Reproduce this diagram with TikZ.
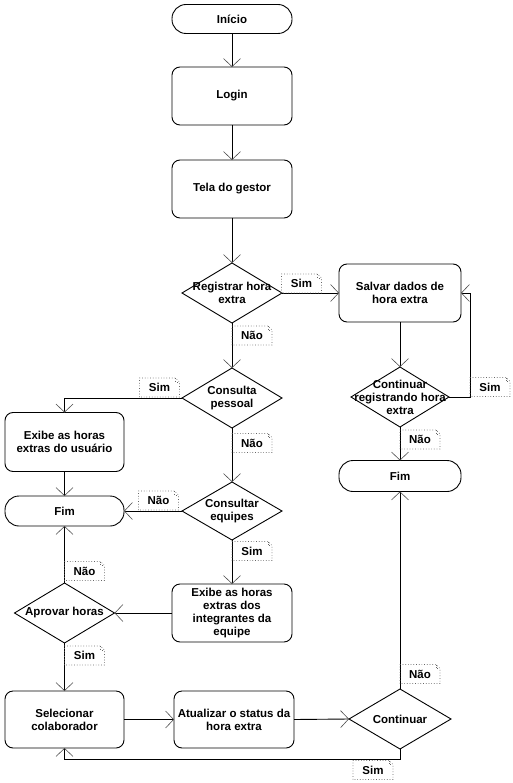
\documentclass[tikz,border=0pt]{standalone}
\usepackage{fontspec}
\setmainfont{Liberation Sans}
\usetikzlibrary{shapes.geometric,arrows.meta}
\tikzset{
  every node/.style={font=\fontsize{11.5}{13}\selectfont\bfseries, inner sep=0pt, outer sep=0pt, align=center},
  box/.style={draw, line width=0.9pt, rectangle, rounded corners=8pt, minimum width=120pt, minimum height=58pt},
  term/.style={draw, line width=0.9pt, rectangle, rounded corners=14pt, minimum width=120pt, minimum height=29pt},
  dec/.style={draw, line width=0.9pt, diamond, minimum width=100pt, minimum height=60pt},
  conn/.style={line width=0.9pt, -{Straight Barb[length=8pt,width=17pt,line width=0.6pt,color=black!70]}},
  lbl/.style={minimum width=40pt, minimum height=19pt},
  notedraw/.style={draw=black!60, dotted, line width=0.7pt}
}
\newcommand\notelabel[3]{%
  \node[lbl] (#1) at #2 {#3};
  \draw[notedraw] (#1.south west) -- (#1.north west) -- ([xshift=-4pt]#1.north east) -- ([yshift=-4pt]#1.north east) -- (#1.south east) -- cycle;
  \draw[notedraw] ([xshift=-4pt]#1.north east) -- ([xshift=-4pt,yshift=-4pt]#1.north east) -- ([yshift=-4pt]#1.north east);
}
\begin{document}
\begin{tikzpicture}[x=1pt,y=-1pt]
\useasboundingbox (0,0) rectangle (513,783);
% nodes
\node[term] (inicio) at (232,19) {Início};
\node[box] (login) at (232,96) {Login};
\node[box] (tela) at (232,189) {Tela do gestor};
\node[dec] (reg) at (232,293) {};
\node at (reg) {Registrar hora\\extra};
\node[box, minimum width=122pt] (salvar) at (400,293) {Salvar dados de\\hora extra};
\node[dec] (cpess) at (232,398) {};
\node at (cpess) {Consulta\\pessoal};
\node[dec, minimum width=98pt] (contreg) at (400,397) {};
\node at (contreg) {Continuar\\registrando hora\\extra};
\node[term, minimum width=122pt, minimum height=31pt] (fimR) at (400,476) {Fim};
\node[box, minimum width=119pt, minimum height=59pt] (exibeU) at (64.5,442) {Exibe as horas\\extras do usuário};
\node[term, minimum width=119pt, minimum height=30pt] (fimL) at (64.5,511) {Fim};
\node[dec, minimum height=58pt] (ceq) at (232,511) {};
\node at (ceq) {Consultar\\equipes};
\node[box] (exibeI) at (232,613) {Exibe as horas\\extras dos\\integrantes da\\equipe};
\node[dec] (aprov) at (64.5,613) {};
\node at (aprov) {Aprovar horas};
\node[box, minimum width=119pt, minimum height=57pt] (selec) at (64.5,719.5) {Selecionar\\colaborador};
\node[box, minimum height=57pt] (atual) at (234,719.5) {Atualizar o status da\\hora extra};
\node[dec, minimum width=102pt] (cont) at (400,719) {};
\node at (cont) {Continuar};
\coordinate (cs) at (400,759);
\coordinate (cr) at (470,397);
% connectors
\draw[conn] (inicio) -- (login);
\draw[conn] (login) -- (tela);
\draw[conn] (tela) -- (reg.north);
\draw[conn] (reg.east) -- (salvar.west);
\draw[conn] (reg.south) -- (cpess.north);
\draw[conn] (cpess.west) -| (exibeU.north);
\draw[conn] (cpess.south) -- (ceq.north);
\draw[conn] (exibeU.south) -- (fimL.north);
\draw[conn] (ceq.west) -- (fimL.east);
\draw[conn] (ceq.south) -- (exibeI.north);
\draw[conn] (exibeI.west) -- (aprov.east);
\draw[conn] (aprov.north) -- (fimL.south);
\draw[conn] (aprov.south) -- (selec.north);
\draw[conn] (selec.east) -- (atual.west);
\draw[conn] (atual.east) -- (cont.west);
\draw[conn] (cont.north) -- (fimR.south);
\draw[conn] (cont.south) -- (cs) -| (selec.south);
\draw[conn] (salvar.south) -- (contreg.north);
\draw[conn] (contreg.east) -- (cr) |- (salvar.east);
\draw[conn] (contreg.south) -- (fimR.north);
% labels
\notelabel{l1}{(301.5,283.5)}{Sim}
\notelabel{l2}{(252,335.5)}{Não}
\notelabel{l3}{(159.5,387.5)}{Sim}
\notelabel{l4}{(252,443)}{Não}
\notelabel{l5}{(158.5,500.5)}{Não}
\notelabel{l6}{(252,551)}{Sim}
\notelabel{l7}{(84.5,571)}{Não}
\notelabel{l8}{(84.5,655.5)}{Sim}
\notelabel{l9}{(420,674)}{Não}
\notelabel{l10}{(373,770)}{Sim}
\notelabel{l11}{(490,387)}{Sim}
\notelabel{l12}{(420,439.5)}{Não}
\end{tikzpicture}
\end{document}
